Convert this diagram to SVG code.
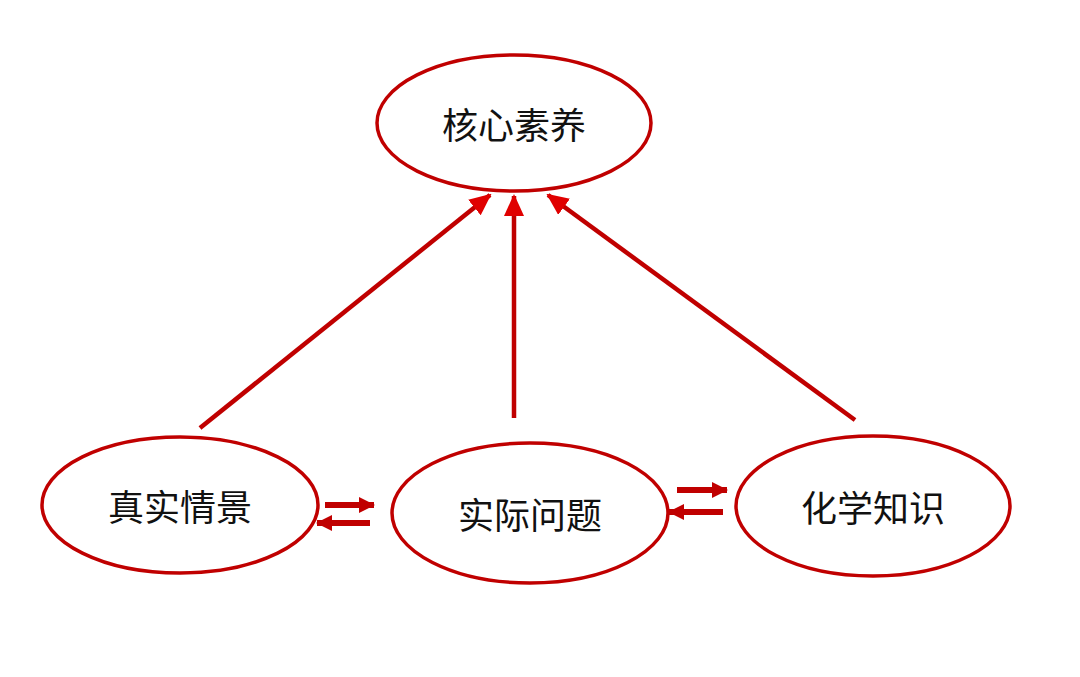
<svg xmlns="http://www.w3.org/2000/svg" width="1080" height="677" viewBox="0 0 1080 677">
<style>
.n{fill:#fff;stroke:#c00000;stroke-width:3.5}
.t{font-family:"Noto Sans CJK SC","Liberation Sans",sans-serif;font-size:36px;fill:#111;text-anchor:middle;dominant-baseline:central}
.c{stroke:#c00000;stroke-width:4.5;fill:none;marker-end:url(#a)}
.d{stroke:#c00000;stroke-width:6;fill:none;marker-end:url(#b)}
</style>
<defs>
<marker id="a" markerUnits="userSpaceOnUse" markerWidth="22" markerHeight="20" refX="20" refY="10" orient="auto"><path d="M0,0 L22,10 L0,20 Z" fill="#e00000"/></marker>
<marker id="b" markerUnits="userSpaceOnUse" markerWidth="16" markerHeight="16" refX="15" refY="8" orient="auto"><path d="M0,0 L16,8 L0,16 Z" fill="#c00000"/></marker>
</defs>
<rect width="1080" height="677" fill="#fff"/>
<g id="n1"><ellipse class="n" cx="514" cy="123" rx="137" ry="68"/><text class="t" x="514" y="123">核心素养</text></g>
<g id="n2"><ellipse class="n" cx="180" cy="505" rx="138" ry="68"/><text class="t" x="180" y="505">真实情景</text></g>
<g id="n3"><ellipse class="n" cx="530" cy="513" rx="138" ry="70"/><text class="t" x="530" y="513">实际问题</text></g>
<g id="n4"><ellipse class="n" cx="873" cy="506" rx="137" ry="70"/><text class="t" x="873" y="506">化学知识</text></g>
<g id="connectors">
<line class="c" x1="200" y1="428" x2="490" y2="195"/>
<line class="c" x1="514" y1="418" x2="514" y2="196"/>
<line class="c" x1="855" y1="420" x2="548" y2="195"/>
<line class="d" x1="325" y1="505" x2="374" y2="505"/>
<line class="d" x1="370" y1="523" x2="317" y2="523"/>
<line class="d" x1="677" y1="490" x2="727" y2="490"/>
<line class="d" x1="723" y1="512" x2="669" y2="512"/>
</g>
</svg>
